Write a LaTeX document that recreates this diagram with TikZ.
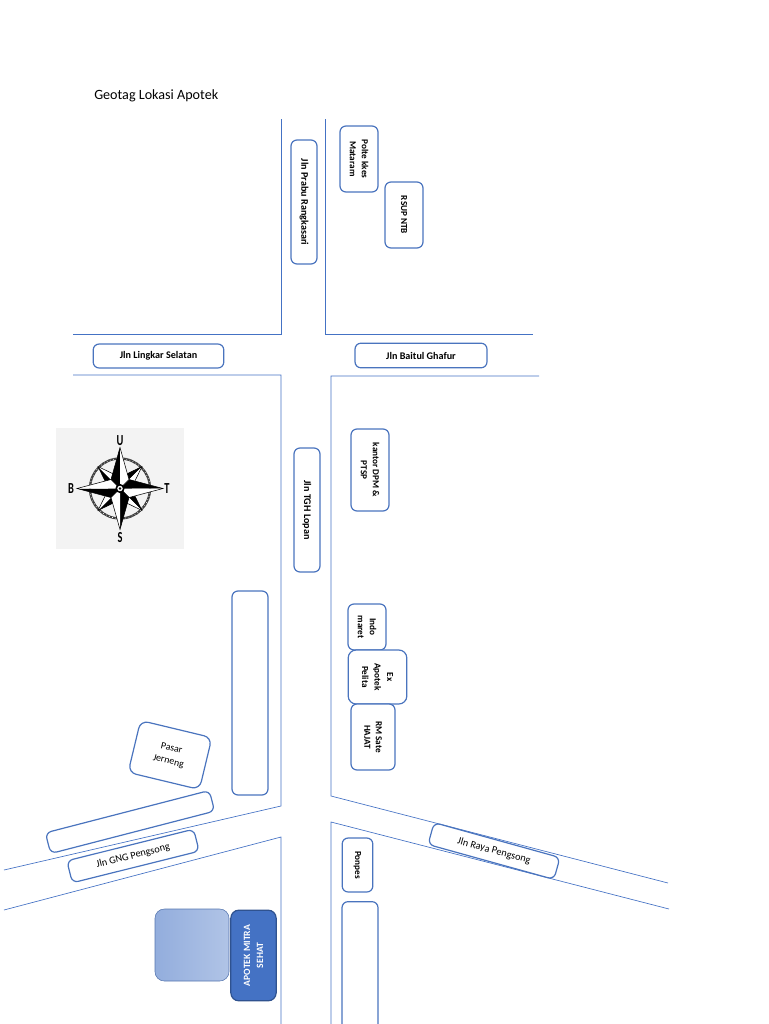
\documentclass[tikz,border=0pt]{standalone}
\usepackage{fontspec}
\setmainfont{Carlito}
\usepackage{tikz}
\usetikzlibrary{calc}
\definecolor{w_road}{HTML}{4472C4}
\definecolor{w_edge}{HTML}{4A74BE}
\definecolor{w_dark}{HTML}{2F528F}
\definecolor{w_paper}{HTML}{F3F3F3}
\tikzstyle{block} = [rectangle, draw=w_edge, fill=white, line width=0.9pt, rounded corners=4.5pt,
	align=center, inner sep=0pt, font=\fontsize{6.9}{9}\selectfont\bfseries]
\tikzstyle{jalan} = [block, font=\fontsize{7.6}{9}\selectfont\bfseries]
\tikzstyle{road} = [draw=w_road, line width=0.5pt]
\tikzstyle{arah} = [inner sep=0pt, xscale=0.68, font=\fontsize{11.5}{12}\selectfont\bfseries]
\begin{document}
\begin{tikzpicture}[x=0.75pt,y=-0.75pt]
	\useasboundingbox (0,0) rectangle (768,1024);
	\clip (0,0) rectangle (768,1024);

	\node[anchor=west, inner sep=0pt, font=\fontsize{10.6}{12}\selectfont] (title) at (94,95.5) {Geotag Lokasi Apotek};

	\draw[road] (281,119) -- (281,334) -- (73,334);
	\draw[road] (325,119) -- (325,334) -- (533,334);
	\draw[road] (73,375) -- (281,375) -- (281,806) -- (4,870);
	\draw[road] (539,376) -- (331,376) -- (331,796) -- (668,883);
	\draw[road] (4,910) -- (281,837) -- (281,1024);
	\draw[road] (669,909) -- (331,822) -- (331,1024);

	\node[jalan, rotate=-90, minimum width=93pt, minimum height=19.5pt] (prabu) at (304,202) {\raisebox{1pt}{Jln Prabu Rangkasari}};
	\node[block, rotate=-90, minimum width=49.5pt, minimum height=28.5pt] (poltekkes) at (359,159) {Polte kkes\\Mataram};
	\node[block, rotate=-90, minimum width=49.5pt, minimum height=28.5pt] (rsup) at (404,215) {RSUP NTB};
	\node[jalan, minimum width=98pt, minimum height=18pt] (lingkar) at (158.5,356) {Jln Lingkar Selatan};
	\node[jalan, minimum width=99pt, minimum height=18.5pt] (baitul) at (421,355.5) {Jln Baitul Ghafur};
	\node[jalan, rotate=-90, minimum width=93pt, minimum height=19.5pt] (lopan) at (307,510) {\raisebox{1pt}{Jln TGH Lopan}};
	\node[block, rotate=-90, minimum width=61.5pt, minimum height=28.5pt] (dpm) at (370,470) {kantor DPM \&\\PTSP};
	\node[block, rotate=-90, minimum width=34.5pt, minimum height=28.5pt] (indomaret) at (367,627) {Indo\\maret};
	\node[block, rotate=-90, minimum width=40.5pt, minimum height=44pt, rounded corners=6pt, font=\fontsize{6.9}{9.4}\selectfont\bfseries] (pelita) at (377.5,677) {Ex\\Apotek\\Pelita};
	\node[block, rotate=-90, minimum width=49.5pt, minimum height=33pt, font=\fontsize{6.9}{8.6}\selectfont\bfseries] (sate) at (373,737) {RM Sate\\HAJAT};
	\node[block, rotate=-90, minimum width=153pt, minimum height=27pt] (kosong) at (250,693) {};
	\node[block, rotate=-13.5, minimum width=55pt, minimum height=40pt, rounded corners=6pt, font=\fontsize{7.4}{9.5}\selectfont] (pasar) at (170,755) {Pasar\\[0.5pt]Jerneng};
	\node[block, rotate=14.5, minimum width=127pt, minimum height=16pt] (kios) at (130,822) {};
	\node[block, rotate=14, minimum width=98pt, minimum height=17pt, font=\fontsize{7.7}{9}\selectfont] (gng) at (133,856) {Jln GNG Pengsong};
	\node[block, rotate=-15.5, minimum width=98pt, minimum height=17pt, font=\fontsize{7.7}{9}\selectfont] (raya) at (494,851) {Jln Raya Pengsong};
	\node[block, rotate=-90, minimum width=40.5pt, minimum height=23pt] (ponpes) at (357.5,865) {Ponpes};
	\node[block, rotate=-90, minimum width=104pt, minimum height=27pt] (kosong2) at (360,971) {};
	\node[block, draw=w_road!70!gray, rounded corners=7pt, left color=w_road!58!white, right color=w_road!42!white, line width=0.4pt, minimum width=55.5pt, minimum height=54pt] (gedung) at (192,945) {};
	\node[block, rotate=90, draw=w_dark, fill=w_road, text=white, rounded corners=6pt, minimum width=68pt, minimum height=34pt, font=\fontsize{7.2}{9.6}\selectfont\bfseries] (apotek) at (253.5,955.5) {APOTEK MITRA\\SEHAT};

	\node[fill=w_paper, minimum width=96pt, minimum height=91pt, inner sep=0pt] (kompas) at (120,488.5) {};
	\draw[black!75, line width=1.7pt] (kompas.center) circle (22.5pt);
	\draw[white, line width=0.5pt, dotted] (kompas.center) circle (22.5pt);
	\foreach \a/\r/\w in {45/31/8,135/31/8,225/31/8,315/31/8,0/43/9,90/41/9,180/43/9,270/41/9} {
		\begin{scope}[shift={(kompas.center)}, y=0.75pt, x=0.75pt, rotate=\a]
			\fill[black] (0,0) -- (\r,0) -- (\w,\w) -- cycle;
			\fill[white] (0,0) -- (\r,0) -- (\w,-\w) -- cycle;
			\draw[black, line width=0.4pt] (0,0) -- (\w,\w) -- (\r,0) -- (\w,-\w) -- cycle;
		\end{scope}
	}
	\draw[black, fill=white, line width=1.2pt] (kompas.center) circle (2.8pt);
	\fill[black] (kompas.center) circle (1pt);
	\node[arah] (utara) at (120,441) {U};
	\node[arah] (barat) at (71,489) {B};
	\node[arah] (timur) at (167,489) {T};
	\node[arah] (selatan) at (120,538) {S};
\end{tikzpicture}
\end{document}
